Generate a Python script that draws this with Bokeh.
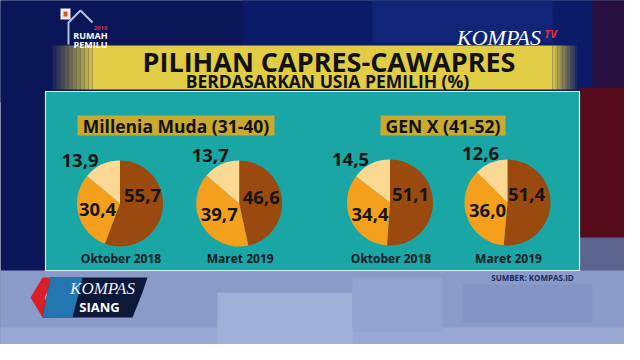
from bokeh.plotting import figure
from bokeh.models import Range1d
from bokeh.embed import file_html
from bokeh.resources import INLINE
from bokeh.core.properties import value
import math

# ---------------- data ----------------
title = "PILIHAN CAPRES-CAWAPRES"
subtitle = "BERDASARKAN USIA PEMILIH (%)"
groups = ["Millenia Muda (31-40)", "GEN X (41-52)"]
periods = ["Oktober 2018", "Maret 2019", "Oktober 2018", "Maret 2019"]
brown_vals = [55.7, 46.6, 51.1, 51.4]
orange_vals = [30.4, 39.7, 34.4, 36.0]
cream_vals = [13.9, 13.7, 14.5, 12.6]
source = "SUMBER: KOMPAS.ID"

# ---------------- layout (reference pixel coords) ----------------
W, H = 624, 344
def Y(v):
    return 360 - v

p = figure(width=W, height=H, x_range=Range1d(8, 632), y_range=Range1d(8, 352),
           output_backend="svg", toolbar_location=None, min_border=0)
p.axis.visible = False
p.grid.visible = False
p.outline_line_color = None
p.background_fill_color = "#0a1658"
p.border_fill_color = "#0a1658"

def rect(x0, x1, y0, y1, color, alpha=1.0, line=None, lw=0):
    p.quad(left=x0, right=x1, top=Y(y0), bottom=Y(y1), fill_color=color,
           fill_alpha=alpha, line_color=line, line_width=lw)

# background top (subtle)
rect(0, 640, 0, 110, "#0a1658")
rect(250, 600, 0, 110, "#0d1d6c", alpha=0.8)
rect(380, 560, 0, 50, "#132a80", alpha=0.7)
rect(600, 640, 0, 110, "#281040")
# right side maroon
rect(587, 640, 95, 245, "#560b1c")
rect(587, 640, 245, 285, "#5c6590")
# bottom light area
rect(0, 640, 278, 360, "#8a9bc9")
rect(0, 640, 335, 360, "#98a8d3")
rect(225, 360, 300, 360, "#9fafd8")
rect(360, 450, 285, 340, "#92a3cf")
rect(470, 600, 292, 330, "#8395c4")

# yellow banner with faded ends
rect(100, 560, 53, 97, "#e0cc45")
steps = 10
for i in range(steps):
    a = (i + 1) / (steps + 1)
    rect(60 + i * 4, 64 + i * 4, 53, 97, "#e0cc45", alpha=a)
    rect(560 + (steps - 1 - i) * 2.5, 562.5 + (steps - 1 - i) * 2.5, 53, 97, "#e0cc45", alpha=a)

p.text(x=[336.5], y=[Y(68.5)], text=[title], text_font=value("Open Sans"),
       text_font_style="bold", text_font_size="27px", text_color="#111111",
       text_align="center", text_baseline="middle")
p.text(x=[335], y=[Y(88)], text=[subtitle], text_font=value("Open Sans"),
       text_font_style="bold", text_font_size="17.5px", text_color="#111111",
       text_align="center", text_baseline="middle")

# teal panel
rect(53, 587, 99, 278, "#19a6a4", line="#d6f2f0", lw=1.2)

# group label boxes
box_x = [(85, 282), (388, 513)]
box_cx = [183.5, 450.5]
for (x0, x1), cx_, g in zip(box_x, box_cx, groups):
    rect(x0, x1, 123, 143, "#c9aa2e")
    p.text(x=[cx_], y=[Y(133.5)], text=[g], text_font=value("Open Sans"),
           text_font_style="bold", text_font_size="17.5px", text_color="#111111",
           text_align="center", text_baseline="middle")

# pies
cx = [127.5, 246.7, 397.5, 515.0]
cy = [211, 211, 210, 210]
R = 43
brown_off = [(22.5, -8), (22, -6), (20.5, -8), (19, -8)]
orange_off = [(-22.5, 6), (-20, 11), (-20, 12), (-20, 8)]
cream_off = [(-40, -43), (-29, -48), (-39.5, -43), (-27, -49)]
colors = ["#9a4a0e", "#f5a01c", "#fcd992"]

def fmt(v):
    return f"{v:.1f}".replace(".", ",")

for i in range(4):
    vals = [brown_vals[i], orange_vals[i], cream_vals[i]]
    total = sum(vals)
    ang = math.pi / 2
    for v, c in zip(vals, colors):
        a1 = ang - 2 * math.pi * v / total
        p.wedge(x=[cx[i]], y=[Y(cy[i])], radius=R, start_angle=a1, end_angle=ang,
                fill_color=c, line_color=None)
        ang = a1
    for off, v in zip([brown_off[i], orange_off[i], cream_off[i]], vals):
        p.text(x=[cx[i] + off[0]], y=[Y(cy[i] + off[1])], text=[fmt(v)],
               text_font=value("Open Sans"), text_font_style="bold",
               text_font_size="18.5px", text_color="#151515",
               text_align="center", text_baseline="middle")
    p.text(x=[cx[i] + 1], y=[Y(266)], text=[periods[i]], text_font=value("Open Sans"),
           text_font_style="bold", text_font_size="12px", text_color="#0e1a24",
           text_align="center", text_baseline="middle")

p.text(x=[540], y=[Y(284.5)], text=[source], text_font=value("Open Sans"),
       text_font_style="bold", text_font_size="8px", text_color="#1a2a5a",
       text_align="center", text_baseline="middle")

# KOMPAS TV logo
p.text(x=[506.5], y=[Y(45)], text=["KOMPAS"], text_font=value("Liberation Serif"),
       text_font_style="italic", text_font_size="22px", text_color="#ffffff",
       text_align="center", text_baseline="middle")
p.text(x=[558], y=[Y(41)], text=["TV"], text_font=value("Open Sans"),
       text_font_style="bold italic", text_font_size="11px", text_color="#e8303a",
       text_align="center", text_baseline="middle")

# RUMAH PEMILU logo
p.line(x=[76, 76, 88, 100], y=[Y(52), Y(30), Y(18), Y(30)], line_color="#b8c0d8", line_width=2)
rect(68, 78, 16, 27, "#f0f0f0")
rect(71, 75, 19, 24, "#e05020")
p.text(x=[108], y=[Y(35)], text=["2019"], text_font=value("Open Sans"),
       text_font_style="bold", text_font_size="6px", text_color="#d83040",
       text_align="center", text_baseline="middle")
p.text(x=[98], y=[Y(43)], text=["RUMAH"], text_font=value("Open Sans"),
       text_font_style="bold", text_font_size="9px", text_color="#ffffff",
       text_align="center", text_baseline="middle")
p.text(x=[98], y=[Y(51.5)], text=["PEMILU"], text_font=value("Open Sans"),
       text_font_style="bold", text_font_size="9px", text_color="#ffffff",
       text_align="center", text_baseline="middle")

# KOMPAS SIANG logo
p.patch(x=[50, 38, 50, 62, 52, 62], y=[Y(285), Y(305), Y(325), Y(325), Y(305), Y(285)],
        fill_color="#d8202a", line_color=None)
p.patch(x=[58, 155, 150, 140, 50, 58], y=[Y(285), Y(285), Y(300), Y(325), Y(325), Y(285)],
        fill_color="#0c1838", line_color=None)
p.patch(x=[58, 90, 80, 50], y=[Y(285), Y(285), Y(325), Y(325)],
        fill_color="#2a8ed0", fill_alpha=0.8, line_color=None)
p.text(x=[110], y=[Y(296)], text=["KOMPAS"], text_font=value("Liberation Serif"),
       text_font_style="italic", text_font_size="17px", text_color="#e8eef8",
       text_align="center", text_baseline="middle")
p.text(x=[107], y=[Y(314)], text=["SIANG"], text_font=value("Open Sans"),
       text_font_style="bold", text_font_size="13px", text_color="#ffffff",
       text_align="center", text_baseline="middle")

open("out.html", "w").write(file_html(p, INLINE))
